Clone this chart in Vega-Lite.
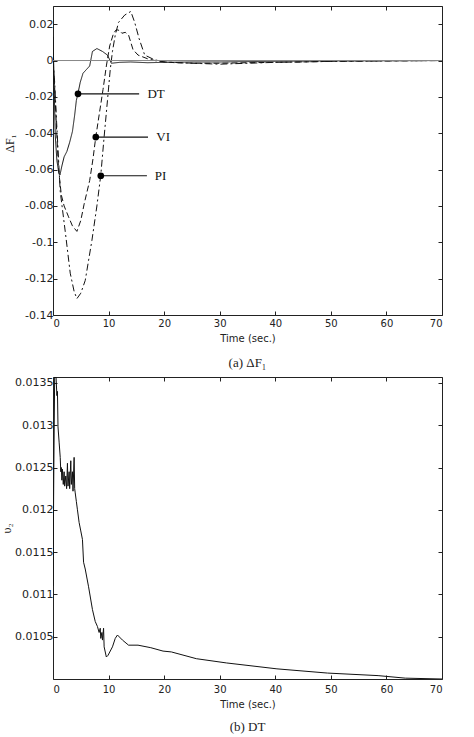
{
  "$schema": "https://vega.github.io/schema/vega-lite/v6.json",
  "background": "white",
  "padding": {"left": 0, "top": 5, "right": 30, "bottom": 0},
  "spacing": 5,
  "columns": 1,
  "align": "none",
  "config": {
    "view": {"stroke": "#222222", "strokeWidth": 1},
    "axis": {
      "grid": false,
      "domain": false,
      "labelFont": "DejaVu Sans",
      "labelColor": "#222222",
      "titleFont": "DejaVu Sans",
      "titleColor": "#222222",
      "titleFontWeight": "normal",
      "tickColor": "#222222",
      "tickSize": -4,
      "labelPadding": 4,
      "labelOverlap": false
    },
    "title": {"font": "Liberation Serif", "fontSize": 13, "fontWeight": "normal", "color": "#222222"}
  },
  "datasets": {
    "df1": [
      {"series": "DT", "t": 0, "v": 0.013},
      {"series": "DT", "t": 0.15, "v": -0.005},
      {"series": "DT", "t": 0.4, "v": -0.041},
      {"series": "DT", "t": 0.7, "v": -0.055},
      {"series": "DT", "t": 1.0, "v": -0.061},
      {"series": "DT", "t": 1.25, "v": -0.063},
      {"series": "DT", "t": 1.6, "v": -0.058},
      {"series": "DT", "t": 2.0, "v": -0.053},
      {"series": "DT", "t": 2.5, "v": -0.05},
      {"series": "DT", "t": 3.0, "v": -0.045},
      {"series": "DT", "t": 3.5, "v": -0.039},
      {"series": "DT", "t": 3.9, "v": -0.03},
      {"series": "DT", "t": 4.2, "v": -0.022},
      {"series": "DT", "t": 4.5, "v": -0.018},
      {"series": "DT", "t": 4.9, "v": -0.012},
      {"series": "DT", "t": 5.4, "v": -0.007},
      {"series": "DT", "t": 6.0, "v": -0.005},
      {"series": "DT", "t": 6.6, "v": -0.003},
      {"series": "DT", "t": 7.1, "v": 0.005},
      {"series": "DT", "t": 7.9, "v": 0.0066},
      {"series": "DT", "t": 8.9, "v": 0.005},
      {"series": "DT", "t": 9.8, "v": 0.003},
      {"series": "DT", "t": 10.5, "v": -0.0015},
      {"series": "DT", "t": 12, "v": -0.001},
      {"series": "DT", "t": 14, "v": -0.0008},
      {"series": "DT", "t": 17, "v": -0.0012},
      {"series": "DT", "t": 20, "v": -0.001},
      {"series": "DT", "t": 25, "v": -0.0008},
      {"series": "DT", "t": 30, "v": -0.0008},
      {"series": "DT", "t": 35, "v": -0.0006},
      {"series": "DT", "t": 40, "v": -0.0004},
      {"series": "DT", "t": 50, "v": -0.0002},
      {"series": "DT", "t": 60, "v": -0.0001},
      {"series": "DT", "t": 70, "v": 0},
      {"series": "VI", "t": 0, "v": 0},
      {"series": "VI", "t": 0.3, "v": -0.015},
      {"series": "VI", "t": 0.6, "v": -0.035},
      {"series": "VI", "t": 1.0, "v": -0.06},
      {"series": "VI", "t": 1.5, "v": -0.074},
      {"series": "VI", "t": 2.0, "v": -0.08},
      {"series": "VI", "t": 2.8, "v": -0.086},
      {"series": "VI", "t": 3.5, "v": -0.091},
      {"series": "VI", "t": 4.3, "v": -0.094},
      {"series": "VI", "t": 5.0, "v": -0.088},
      {"series": "VI", "t": 5.6, "v": -0.079},
      {"series": "VI", "t": 6.6, "v": -0.066},
      {"series": "VI", "t": 7.2, "v": -0.054},
      {"series": "VI", "t": 7.7, "v": -0.042},
      {"series": "VI", "t": 8.4, "v": -0.028},
      {"series": "VI", "t": 9.0, "v": -0.016},
      {"series": "VI", "t": 9.6, "v": -0.003},
      {"series": "VI", "t": 10.2, "v": 0.008},
      {"series": "VI", "t": 10.9, "v": 0.015},
      {"series": "VI", "t": 11.4, "v": 0.017},
      {"series": "VI", "t": 12.0, "v": 0.0165},
      {"series": "VI", "t": 12.4, "v": 0.015},
      {"series": "VI", "t": 13.0, "v": 0.0155},
      {"series": "VI", "t": 13.6, "v": 0.014},
      {"series": "VI", "t": 14.4, "v": 0.006},
      {"series": "VI", "t": 15.3, "v": 0.003},
      {"series": "VI", "t": 17, "v": 0.001},
      {"series": "VI", "t": 19, "v": -0.0005},
      {"series": "VI", "t": 22, "v": -0.0012},
      {"series": "VI", "t": 26, "v": -0.0015},
      {"series": "VI", "t": 30, "v": -0.0015},
      {"series": "VI", "t": 35, "v": -0.0012},
      {"series": "VI", "t": 40, "v": -0.001},
      {"series": "VI", "t": 45, "v": -0.0008},
      {"series": "VI", "t": 50, "v": -0.0004},
      {"series": "VI", "t": 60, "v": -0.0002},
      {"series": "VI", "t": 70, "v": 0},
      {"series": "PI", "t": 0, "v": 0},
      {"series": "PI", "t": 0.3, "v": -0.012},
      {"series": "PI", "t": 0.7, "v": -0.037},
      {"series": "PI", "t": 1.3, "v": -0.072},
      {"series": "PI", "t": 2.2, "v": -0.094},
      {"series": "PI", "t": 3.1, "v": -0.117},
      {"series": "PI", "t": 3.8, "v": -0.127},
      {"series": "PI", "t": 4.3, "v": -0.131},
      {"series": "PI", "t": 5.0, "v": -0.128},
      {"series": "PI", "t": 5.8, "v": -0.121},
      {"series": "PI", "t": 7.0, "v": -0.099},
      {"series": "PI", "t": 7.9, "v": -0.08},
      {"series": "PI", "t": 8.6, "v": -0.063},
      {"series": "PI", "t": 9.2, "v": -0.042},
      {"series": "PI", "t": 9.8, "v": -0.022},
      {"series": "PI", "t": 10.3, "v": -0.005},
      {"series": "PI", "t": 10.7, "v": 0.005},
      {"series": "PI", "t": 11.2, "v": 0.014},
      {"series": "PI", "t": 11.8, "v": 0.021},
      {"series": "PI", "t": 12.9, "v": 0.025},
      {"series": "PI", "t": 14.0, "v": 0.027},
      {"series": "PI", "t": 14.7, "v": 0.021},
      {"series": "PI", "t": 15.5, "v": 0.012},
      {"series": "PI", "t": 16.5, "v": 0.003},
      {"series": "PI", "t": 18.2, "v": 0.0005},
      {"series": "PI", "t": 20, "v": -0.0008},
      {"series": "PI", "t": 25, "v": -0.0015},
      {"series": "PI", "t": 30, "v": -0.002},
      {"series": "PI", "t": 35, "v": -0.0015},
      {"series": "PI", "t": 40, "v": -0.001},
      {"series": "PI", "t": 50, "v": -0.0005},
      {"series": "PI", "t": 60, "v": -0.0002},
      {"series": "PI", "t": 70, "v": 0}
    ],
    "labels": [
      {"name": "DT", "x0": 4.5, "x1": 15.5, "tx": 17.0, "y": -0.0183},
      {"name": "VI", "x0": 7.7, "x1": 17.1, "tx": 18.6, "y": -0.0421},
      {"name": "PI", "x0": 8.6, "x1": 16.9, "tx": 18.3, "y": -0.0634}
    ],
    "u2": [
      {"t": 0, "v": 0.0111},
      {"t": 0.15, "v": 0.0125},
      {"t": 0.3, "v": 0.01357},
      {"t": 0.55, "v": 0.01357},
      {"t": 0.7, "v": 0.01335},
      {"t": 0.8, "v": 0.0134},
      {"t": 0.9, "v": 0.01298},
      {"t": 1.1, "v": 0.0128},
      {"t": 1.3, "v": 0.01262},
      {"t": 1.4, "v": 0.01245},
      {"t": 1.5, "v": 0.0125},
      {"t": 1.6, "v": 0.01235},
      {"t": 1.7, "v": 0.01248},
      {"t": 1.85, "v": 0.0123},
      {"t": 2.0, "v": 0.01245},
      {"t": 2.1, "v": 0.01228},
      {"t": 2.3, "v": 0.0124},
      {"t": 2.45, "v": 0.01225},
      {"t": 2.6, "v": 0.01255},
      {"t": 2.7, "v": 0.01228},
      {"t": 2.9, "v": 0.01245},
      {"t": 3.0, "v": 0.01225},
      {"t": 3.2, "v": 0.01258},
      {"t": 3.3, "v": 0.0123},
      {"t": 3.5, "v": 0.01245},
      {"t": 3.6, "v": 0.01222},
      {"t": 3.8, "v": 0.01262},
      {"t": 3.9, "v": 0.01225},
      {"t": 4.0, "v": 0.0122},
      {"t": 4.2, "v": 0.0121},
      {"t": 4.4, "v": 0.012},
      {"t": 4.7, "v": 0.01185},
      {"t": 5.0, "v": 0.01175},
      {"t": 5.3, "v": 0.01165},
      {"t": 5.5, "v": 0.01138},
      {"t": 5.8, "v": 0.0113},
      {"t": 6.4, "v": 0.01109},
      {"t": 7.1, "v": 0.01082},
      {"t": 7.6, "v": 0.01068},
      {"t": 8.0, "v": 0.01062},
      {"t": 8.3, "v": 0.01055},
      {"t": 8.5, "v": 0.0106},
      {"t": 8.6, "v": 0.01048},
      {"t": 8.8, "v": 0.01055},
      {"t": 8.9, "v": 0.01046},
      {"t": 9.1, "v": 0.0106},
      {"t": 9.2, "v": 0.01038},
      {"t": 9.6, "v": 0.01026},
      {"t": 9.9, "v": 0.01028},
      {"t": 10.7, "v": 0.01038},
      {"t": 11.2, "v": 0.01048},
      {"t": 11.6, "v": 0.01052},
      {"t": 12.5, "v": 0.01046},
      {"t": 13.6, "v": 0.0104},
      {"t": 15.3, "v": 0.0104},
      {"t": 17.6, "v": 0.01037},
      {"t": 19.8, "v": 0.01033},
      {"t": 21.3, "v": 0.01032},
      {"t": 25.8, "v": 0.01024},
      {"t": 31.2, "v": 0.01019},
      {"t": 40.3, "v": 0.01012},
      {"t": 49.4, "v": 0.01007},
      {"t": 58.5, "v": 0.01004},
      {"t": 63.4, "v": 0.01001},
      {"t": 70, "v": 0.01}
    ]
  },
  "concat": [
    {
      "width": 389,
      "height": 309,
      "title": {"text": "(a) ΔF₁", "orient": "bottom", "offset": 14},
      "resolve": {"axis": {"x": "independent", "y": "independent"}},
      "layer": [
        {
          "data": {"name": "df1"},
          "mark": {"type": "line", "color": "#111111", "strokeWidth": 1, "clip": true},
          "encoding": {
            "x": {"field": "t", "type": "quantitative", "scale": {"domain": [0, 70], "nice": false},
                  "axis": {"values": [0, 10, 20, 30, 40, 50, 60, 70], "title": "Time  (sec.)", "titleFontSize": 10, "labelFontSize": 10, "labelPadding": 7, "titlePadding": 5}},
            "y": {"field": "v", "type": "quantitative", "scale": {"domain": [-0.14, 0.03], "nice": false, "zero": false},
                  "axis": {"values": [-0.14, -0.12, -0.1, -0.08, -0.06, -0.04, -0.02, 0, 0.02], "labelExpr": "toString(datum.value)", "title": "ΔF₁", "titleFont": "Liberation Serif", "titleFontSize": 12, "labelFontSize": 11, "titlePadding": 8, "titleY": 137}},
            "detail": {"field": "series"},
            "strokeDash": {"field": "series", "type": "nominal", "scale": {"domain": ["DT", "VI", "PI"], "range": [[1, 0], [6, 3], [7, 3, 2, 3]]}, "legend": null}
          }
        },
        {
          "data": {"values": [{"z": 0}]},
          "mark": {"type": "rule", "color": "#888888", "strokeWidth": 1},
          "encoding": {"y": {"field": "z", "type": "quantitative", "axis": {"orient": "right", "labels": false, "title": null, "values": [-0.14, -0.12, -0.1, -0.08, -0.06, -0.04, -0.02, 0, 0.02]}}}
        },
        {
          "data": {"name": "labels"},
          "mark": {"type": "rule", "color": "#111111", "strokeWidth": 1.2},
          "encoding": {
            "x": {"field": "x0", "type": "quantitative", "axis": {"orient": "top", "labels": false, "title": null, "values": [0, 10, 20, 30, 40, 50, 60, 70]}},
            "x2": {"field": "x1"},
            "y": {"field": "y", "type": "quantitative", "axis": null}
          }
        },
        {
          "data": {"name": "labels"},
          "mark": {"type": "point", "filled": true, "color": "#000000", "size": 45, "opacity": 1},
          "encoding": {
            "x": {"field": "x0", "type": "quantitative", "axis": null},
            "y": {"field": "y", "type": "quantitative", "axis": null}
          }
        },
        {
          "data": {"name": "labels"},
          "mark": {"type": "text", "font": "Liberation Serif", "fontSize": 13, "align": "left", "baseline": "middle", "color": "#111111"},
          "encoding": {
            "x": {"field": "tx", "type": "quantitative", "axis": null},
            "y": {"field": "y", "type": "quantitative", "axis": null},
            "text": {"field": "name"}
          }
        }
      ]
    },
    {
      "width": 389,
      "height": 302,
      "title": {"text": "(b) DT", "orient": "bottom", "offset": 12},
      "data": {"name": "u2"},
      "resolve": {"axis": {"x": "independent", "y": "independent"}},
      "layer": [
        {
          "mark": {"type": "line", "color": "#111111", "strokeWidth": 1, "clip": true},
          "encoding": {
            "x": {"field": "t", "type": "quantitative", "scale": {"domain": [0, 70], "nice": false},
                  "axis": {"values": [0, 10, 20, 30, 40, 50, 60, 70], "title": "Time (sec.)", "titleFontSize": 10, "labelFontSize": 10, "labelPadding": 9, "titlePadding": 5}},
            "y": {"field": "v", "type": "quantitative", "scale": {"domain": [0.01, 0.01357], "nice": false, "zero": false},
                  "axis": {"values": [0.0105, 0.011, 0.0115, 0.012, 0.0125, 0.013, 0.0135], "labelExpr": "toString(datum.value)", "title": "υ₂", "titleFont": "Liberation Serif", "titleFontSize": 12, "labelFontSize": 11, "titlePadding": 1}}
          }
        },
        {
          "mark": {"type": "line", "opacity": 0, "clip": true},
          "encoding": {
            "x": {"field": "t", "type": "quantitative", "axis": {"orient": "top", "labels": false, "title": null, "values": [0, 10, 20, 30, 40, 50, 60, 70]}},
            "y": {"field": "v", "type": "quantitative", "axis": {"orient": "right", "labels": false, "title": null, "values": [0.0105, 0.011, 0.0115, 0.012, 0.0125, 0.013, 0.0135]}}
          }
        }
      ]
    }
  ]
}
